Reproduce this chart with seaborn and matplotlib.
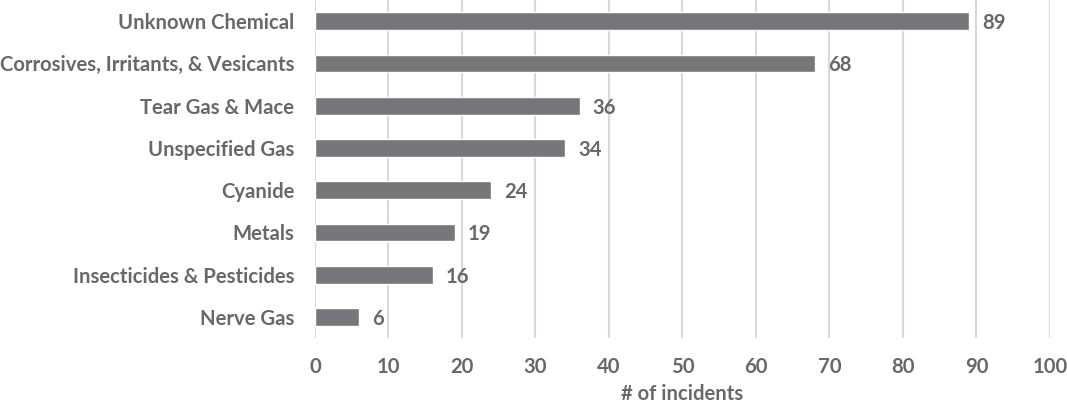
import matplotlib.pyplot as plt
import pandas as pd
import seaborn as sns

categories = [
    "Unknown Chemical",
    "Corrosives, Irritants, & Vesicants",
    "Tear Gas & Mace",
    "Unspecified Gas",
    "Cyanide",
    "Metals",
    "Insecticides & Pesticides",
    "Nerve Gas",
]
incidents = [89, 68, 36, 34, 24, 19, 16, 6]

df = pd.DataFrame({"agent": categories, "count": incidents})

sns.set_style("white")
plt.rcParams["font.family"] = ["Lato", "DejaVu Sans"]
text_color = "#68686b"
bar_color = "#77777b"
fs = 14.6

fig = plt.figure(figsize=(10.67, 4.07), dpi=100)
ax = fig.add_axes([0.2952, 0.1695, 0.6888, 0.8305])

sns.barplot(data=df, x="count", y="agent", color=bar_color, width=0.42,
            saturation=1, ax=ax, zorder=3)

for i, v in enumerate(incidents):
    ax.text(v + 1.8, i + 0.05, str(v), va="center", ha="left", fontsize=fs,
            fontweight="bold", color=text_color)

ax.set_xlim(0, 100)
ax.set_xticks(range(0, 101, 10))
ax.grid(axis="x", color="#d9d9d9", linewidth=1.5, zorder=0)
ax.grid(axis="y", visible=False)
for s in ax.spines.values():
    s.set_visible(False)
ax.tick_params(axis="both", length=0, labelsize=fs, colors=text_color)
ax.tick_params(axis="x", pad=14)
ax.tick_params(axis="y", pad=15)
for lbl in ax.get_yticklabels() + ax.get_xticklabels():
    lbl.set_fontweight("bold")
ax.set_ylabel("")
ax.set_xlabel("# of incidents", fontsize=fs, fontweight="bold", color=text_color, labelpad=5)

fig.savefig("out.png", dpi=100)
